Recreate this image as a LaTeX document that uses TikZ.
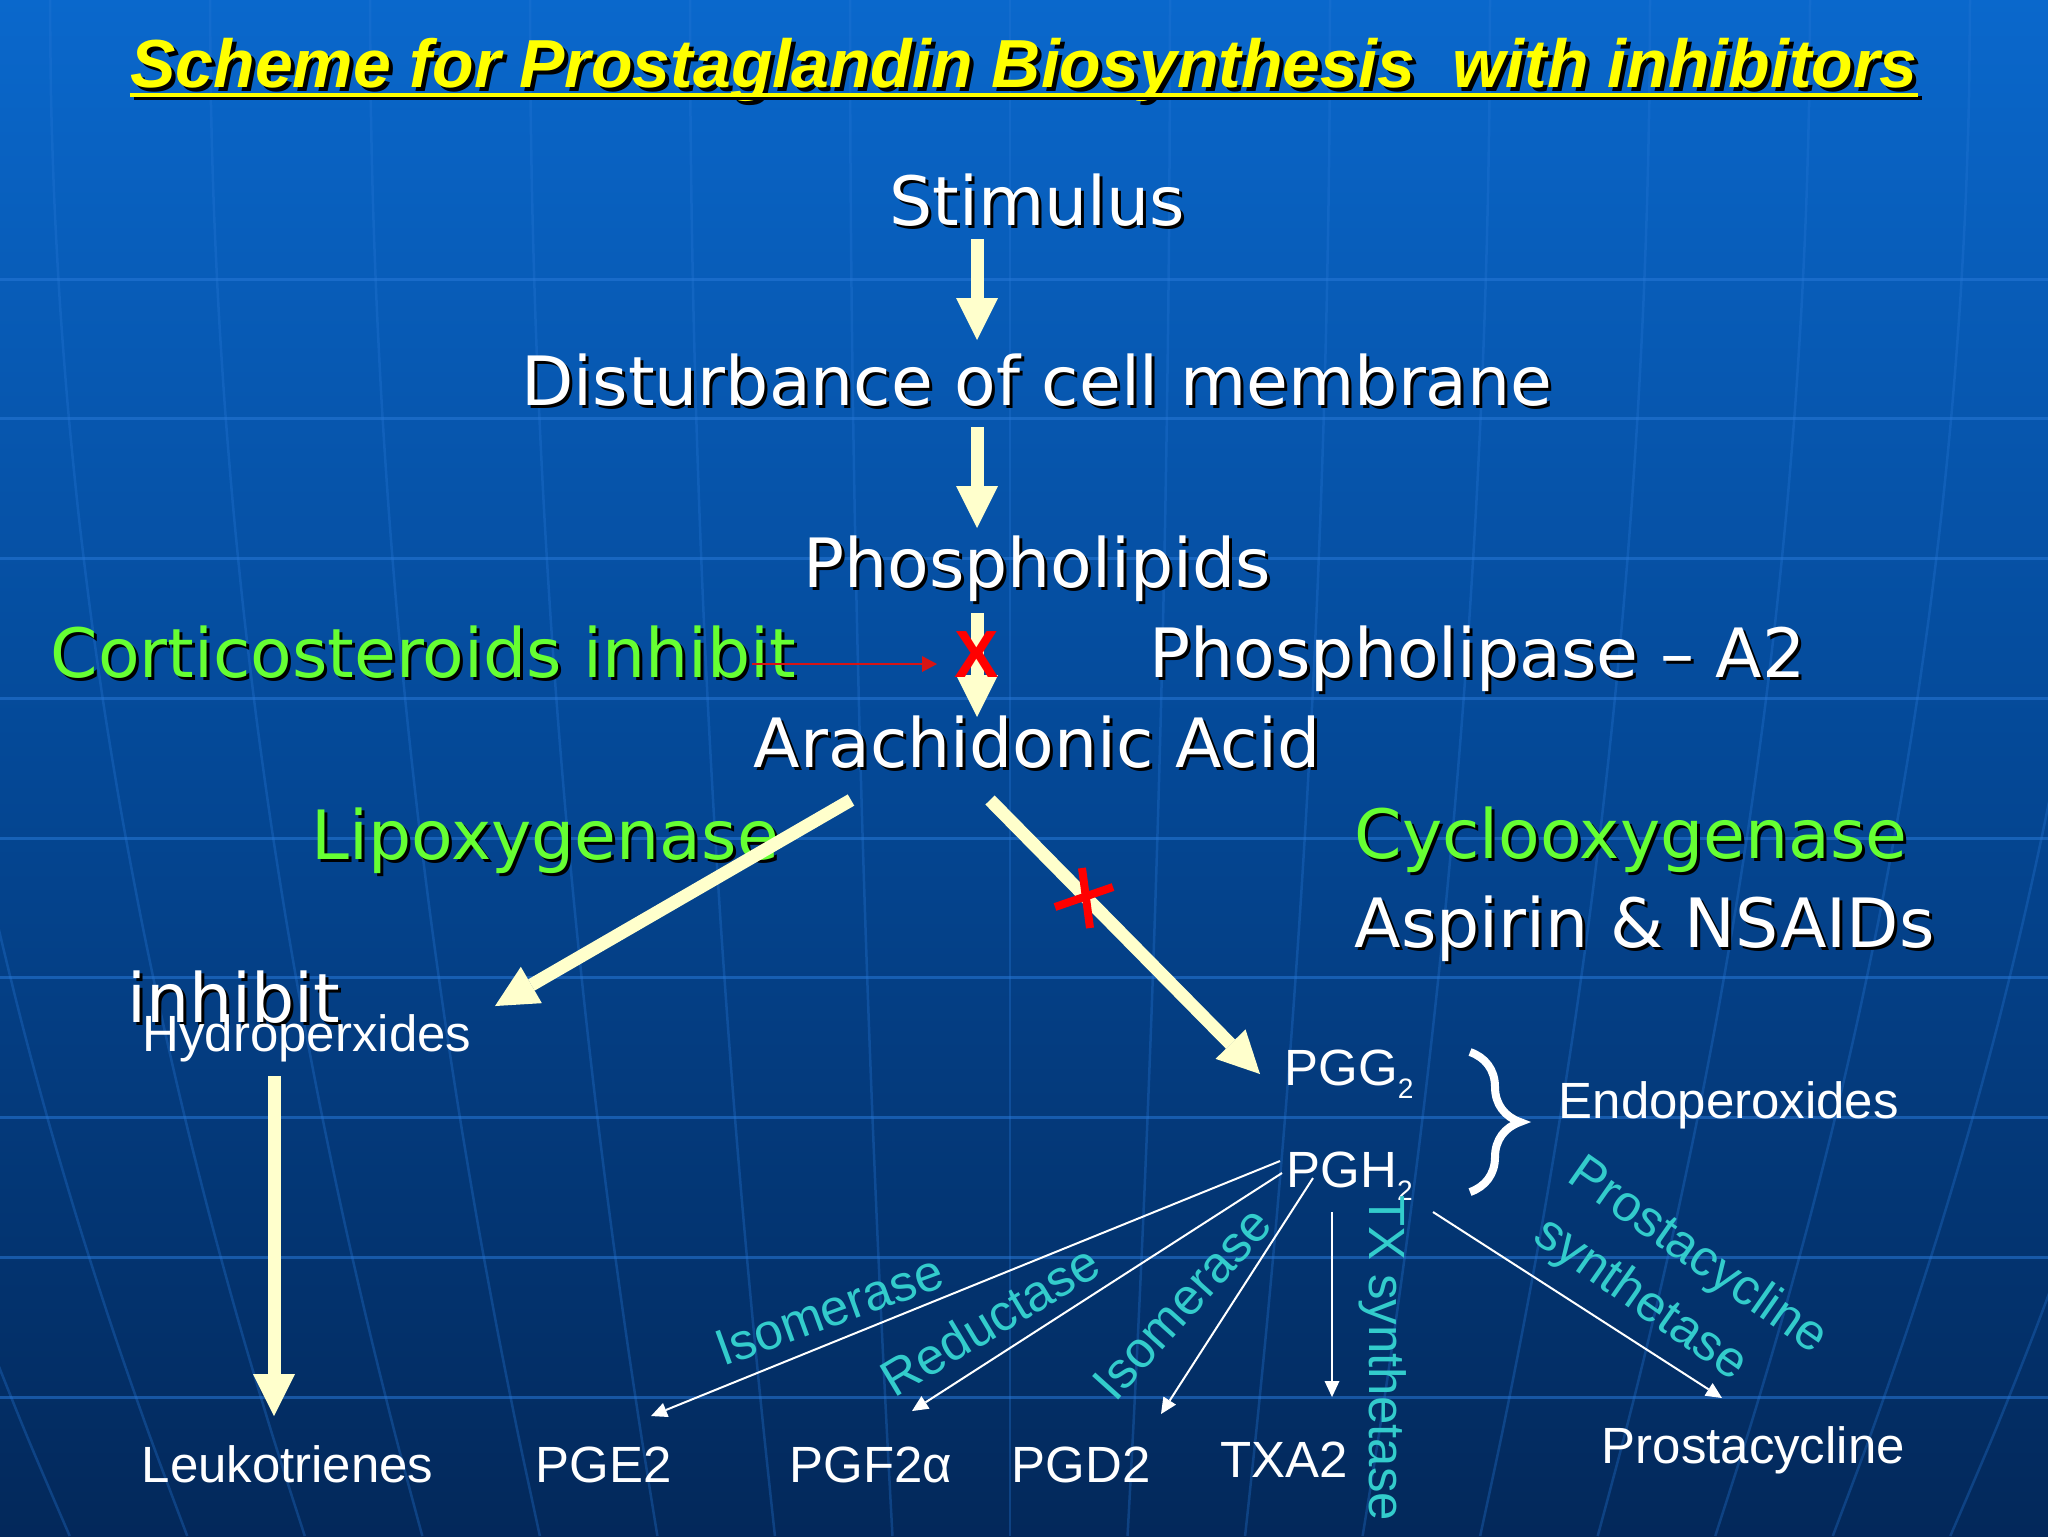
\documentclass[tikz,border=0pt]{standalone}
\usepackage{fontspec}
\setmainfont{DejaVu Sans}
\newfontfamily\arialf{Liberation Sans}
\usetikzlibrary{arrows.meta,calc,decorations.pathreplacing}
\definecolor{bgtop}{RGB}{10,104,204}
\definecolor{bgmid}{RGB}{4,72,150}
\definecolor{bgbot}{RGB}{3,40,90}
\definecolor{gridc}{RGB}{40,120,215}
\definecolor{cream}{RGB}{255,255,204}
\definecolor{greenc}{RGB}{102,255,51}
\definecolor{cyanc}{RGB}{51,204,204}
\definecolor{titlec}{RGB}{255,255,0}
\definecolor{redc}{RGB}{255,0,0}
\definecolor{darkred}{RGB}{215,20,20}
\newcommand{\shd}[2][0.3mm]{\leavevmode\rlap{\hspace*{#1}\raisebox{-#1}[0pt][0pt]{\color{black}#2}}#2}
\newcommand{\lowsub}[1]{\raisebox{-1.3mm}{\fontsize{8}{9}\selectfont #1}}
\begin{document}
\begin{tikzpicture}[x=0.1mm,y=-0.1mm,
  big/.style={inner sep=0pt, text=white, font=\fontsize{19.35}{23}\selectfont},
  bigg/.style={big, text=greenc},
  sm/.style={inner sep=0pt, text=white, font=\arialf\fontsize{14.5}{17}\selectfont},
  cy/.style={inner sep=0pt, text=cyanc, font=\arialf\fontsize{14.5}{17}\selectfont},
  bigarr/.style={draw=cream, line width=1.3mm, -{Triangle[width=4.2mm,length=4.2mm,line width=0pt]}},
  thinarr/.style={draw=white, line width=0.2mm, -{Triangle[width=1.5mm,length=1.6mm,line width=0pt]}},
  redarr/.style={draw=darkred, line width=0.25mm, -{Triangle[width=1.6mm,length=1.5mm,line width=0pt]}},
  gridh/.style={draw=gridc, line width=0.3mm, opacity=0.55},
  gridv/.style={draw=gridc, line width=0.25mm, opacity=0.32},
  redx/.style={draw=redc, line width=0.8mm}]
\useasboundingbox (0,0) rectangle (2048,1536);
\shade[top color=bgtop, bottom color=bgbot, middle color=bgmid] (0,0) rectangle (2048,1536);
\begin{scope}
  \clip (0,0) rectangle (2048,1536);
  \foreach \yy in {279,418,558,698,838,977,1117,1257,1397}
    \draw[gridh] (0,\yy) -- (2048,\yy);
  \foreach \k in {-9,...,9}
    \draw[gridv] plot[variable=\t, domain=0:1536, samples=16, smooth] ({1010+\k*(160-0.18*(\t/100)^2)},{\t});
\end{scope}

% title
\node[anchor=base, inner sep=0pt, text=titlec, font=\arialf\bfseries\itshape\fontsize{19.35}{23}\selectfont] (title) at (1024,87)
  {\shd[0.4mm]{Scheme for Prostaglandin Biosynthesis\ \ with inhibitors}};
\draw[black, line width=0.45mm] ([shift={(4,11)}]title.base west) -- ([shift={(4,11)}]title.base east);
\draw[titlec, line width=0.45mm] ([shift={(0,8)}]title.base west) -- ([shift={(0,8)}]title.base east);

% main texts
\node[big, anchor=base] (stim) at (1037,225) {\shd{Stimulus}};
\node[big, anchor=base] (dist) at (1037,405) {\shd{Disturbance of cell membrane}};
\node[big, anchor=base] (phos) at (1037,587) {\shd{Phospholipids}};
\node[bigg, anchor=base west] (cort) at (50,677) {\shd{Corticosteroids inhibit}};
\node[big, anchor=base west] (pla) at (1149,677) {\shd{Phospholipase – A2}};
\node[big, anchor=base] (arach) at (1037,767) {\shd{Arachidonic Acid}};
\node[bigg, anchor=base west] (lipo) at (311,859) {\shd{Lipoxygenase}};
\node[bigg, anchor=base west] (cox) at (1354,858) {\shd{Cyclooxygenase}};
\node[big, anchor=base west] (asp) at (1354,947) {\shd{Aspirin \& NSAIDs}};
\node[big, anchor=base west] (inh) at (127,1022) {\shd{inhibit}};

% small texts
\node[sm, anchor=base west] (hydro) at (142,1051) {Hydroperxides};
\node[sm, anchor=base west] (leuk) at (141,1482) {Leukotrienes};
\node[sm, anchor=base west] (pge) at (535,1482) {PGE2};
\node[sm, anchor=base west] (pgf) at (789,1482) {PGF2α};
\node[sm, anchor=base west] (pgd) at (1011,1482) {PGD2};
\node[sm, anchor=base west] (txa) at (1220,1477) {TXA2};
\node[sm, anchor=base west] (prost) at (1601,1463) {Prostacycline};
\node[sm, anchor=base west] (pgg) at (1284,1085) {PGG\lowsub{2}};
\node[sm, anchor=base west] (pgh) at (1286,1187) {PGH\lowsub{2}};
\node[sm, anchor=base west] (endo) at (1558,1118) {Endoperoxides};

% enzyme labels
\node[cy, rotate=20] (iso1) at (829,1310) {Isomerase};
\node[cy, rotate=31] (redu) at (990,1320) {Reductase};
\node[cy, rotate=48] (iso2) at (1182,1303) {Isomerase};
\node[cy, rotate=-90] (txs) at (1383,1358) {TX synthetase};
\node[cy, rotate=-35] (pcs) at (1697,1257) {Prostacycline};
\node[cy, rotate=-35] (syn) at (1640,1300) {synthetase};

% thick arrows
\draw[bigarr] ($(stim.base)+(-60,14)$) -- ($(dist.base)+(-60,-65)$);
\draw[bigarr] ($(dist.base)+(-60,22)$) -- ($(phos.base)+(-60,-59)$);
\draw[bigarr] ($(phos.base)+(-60,26)$) -- ($(arach.base)+(-60,-50)$);
\draw[bigarr] ($(arach.base)+(-186,33)$) -- ($(hydro.base west)+(353,-45)$);
\draw[bigarr] ($(arach.base)+(-47,33)$) -- ($(pgg.base west)+(-24,-11)$);
\draw[bigarr] ($(hydro.base west)+(132,25)$) -- ($(leuk.base west)+(133,-66)$);

% inhibition marks
\node[inner sep=0pt, text=redc, anchor=base, font=\arialf\bfseries\fontsize{19}{20}\selectfont] (xa) at (977,677) {X};
\draw[redarr] ($(cort.base west)+(702,-13)$) -- ($(xa.base)+(-40,-13)$);
\coordinate (cxx) at (1085,898);
\draw[redx] ($(cxx)+(-3,-30)$) -- ($(cxx)+(5,30)$);
\draw[redx] ($(cxx)+(-30,9)$) -- ($(cxx)+(28,-11)$);

% brace
\draw[white, line width=0.8mm, decorate, decoration={brace, amplitude=5mm}]
  ($(pgg.base west)+(186,-33)$) -- ($(pgg.base west)+(186,107)$);

% thin arrows from PGH2
\draw[thinarr] ($(pgh.base west)+(-6,-26)$) -- ($(pge.base west)+(116,-66)$);
\draw[thinarr] ($(pgh.base west)+(-4,-14)$) -- ($(pgf.base west)+(123,-71)$);
\draw[thinarr] ($(pgh.base west)+(27,-9)$) -- ($(pgd.base west)+(150,-68)$);
\draw[thinarr] ($(pgh.base west)+(46,25)$) -- ($(txa.base west)+(112,-80)$);
\draw[thinarr] ($(pgh.base west)+(147,25)$) -- ($(prost.base west)+(121,-65)$);
\end{tikzpicture}
\end{document}
